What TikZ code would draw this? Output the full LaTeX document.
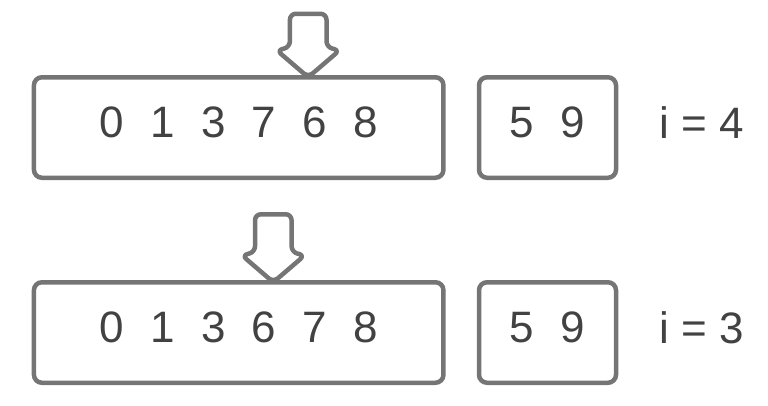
\documentclass[tikz,border=0pt]{standalone}
\usepackage{fontspec}
\setmainfont{Liberation Sans}
\definecolor{boxgray}{HTML}{757575}
\definecolor{txtgray}{HTML}{424242}
\newcommand\dgap{\hspace{26.4pt}}
\begin{document}
\begin{tikzpicture}[x=1pt,y=-1pt,
  box/.style={draw=boxgray, line width=4.5pt, rounded corners=8pt, outer sep=0pt,
    inner sep=0pt, text=txtgray, font=\fontsize{44}{50}\selectfont, text depth=10pt},
  lbl/.style={inner sep=0pt, text=txtgray, font=\fontsize{44}{50}\selectfont, text depth=10pt},
  downarrow/.style={draw=boxgray, line width=4.5pt, rounded corners=6pt, line join=round}]
\useasboundingbox (0,0) rectangle (768,405);
% row 1
\node[box, minimum width=409.5pt, minimum height=100.5pt] (a1) at (238.7,127.5)
  {0\dgap 1\dgap 3\dgap 7\dgap 6\dgap 8};
\node[box, minimum width=137pt, minimum height=100.5pt] (b1) at (547.5,127.5)
  {5\dgap 9};
\node[lbl] (i1) at (702,127.5) {i = 4};
\coordinate (t1) at ([xshift=69.5pt]a1.north);
\draw[downarrow] (t1) -- ++(-31.5,-27) -- ++(13.2,-3) -- ++(0,-33.5) -- ++(36.6,0)
  -- ++(0,33.5) -- ++(13.2,3) -- cycle;
% row 2
\node[box, minimum width=409.5pt, minimum height=100.5pt] (a2) at (238.7,332.5)
  {0\dgap 1\dgap 3\dgap 6\dgap 7\dgap 8};
\node[box, minimum width=137pt, minimum height=100.5pt] (b2) at (547.5,332.5)
  {5\dgap 9};
\node[lbl] (i2) at (702,332.5) {i = 3};
\coordinate (t2) at ([xshift=34.6pt]a2.north);
\draw[downarrow] (t2) -- ++(-31.5,-27) -- ++(13.2,-3) -- ++(0,-38) -- ++(36.6,0)
  -- ++(0,38) -- ++(13.2,3) -- cycle;
\end{tikzpicture}
\end{document}
